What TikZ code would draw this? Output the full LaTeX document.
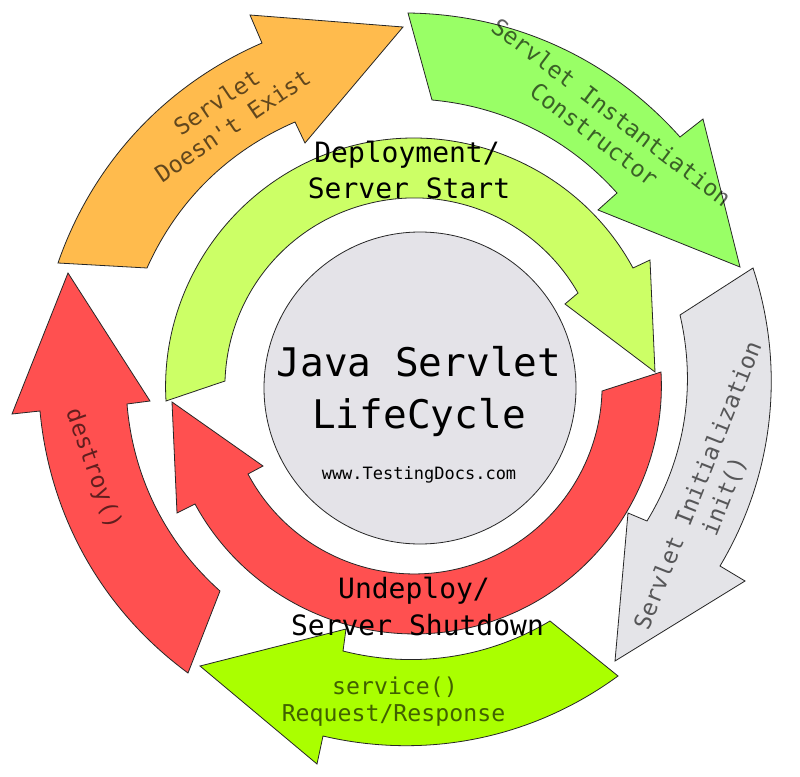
\documentclass[tikz,border=0pt]{standalone}
\usepackage{fontspec}
\setmonofont{DejaVu Sans Mono}
\definecolor{cOrange}{RGB}{255,187,77}
\definecolor{cInst}{RGB}{153,255,102}
\definecolor{cGray}{RGB}{228,228,232}
\definecolor{cServ}{RGB}{170,255,0}
\definecolor{cRed}{RGB}{255,80,80}
\definecolor{cDeploy}{RGB}{204,255,102}
\definecolor{cCircle}{RGB}{228,227,232}
\begin{document}
\begin{tikzpicture}[x=1pt,y=1pt,
  arrowbody/.style={draw=black!85, line width=0.8pt, line join=miter, miter limit=10},
  blacklbl/.style={font=\ttfamily\fontsize{28}{34}\selectfont, inner sep=0pt, anchor=base, text=black},
  titlelbl/.style={font=\ttfamily\fontsize{39.4}{48}\selectfont, inner sep=0pt, anchor=base, text=black},
  arrowlbl/.style={font=\ttfamily\fontsize{23.2}{28.4}\selectfont, inner sep=0pt, text=black, text opacity=0.62, align=center},
]
\useasboundingbox (0,0) rectangle (800,-776);
\fill[white] (0,0) rectangle (800,-776);

% ---------- outer ring ----------
% Servlet Doesn't Exist (orange)
\path[arrowbody, fill=cOrange] (58,-263) to[bend left=23.7, looseness=0.9] (262,-43) -- (250,-15) -- (403,-27)
  -- (305,-143) -- (295,-122) to[bend right=21.2, looseness=0.9] (147,-268) -- cycle;
% Servlet Instantiation (green)
\path[arrowbody, fill=cInst] (408,-13) to[bend left=23.8, looseness=0.9] (680,-137) -- (703,-119) -- (740,-267)
  -- (598,-210) -- (617,-193) to[bend right=21.4, looseness=0.9] (432,-100) -- cycle;
% Servlet Initialization (gray)
\path[arrowbody, fill=cGray] (753,-268) to[bend left=24.5, looseness=0.9] (720,-566) -- (745,-581) -- (615,-661)
  -- (628,-513) -- (647,-521) to[bend right=22.2, looseness=0.9] (680,-315) -- cycle;
% service() (bright green)
\path[arrowbody, fill=cServ] (618,-676) to[bend left=24.7, looseness=0.9] (323,-736) -- (317,-764) -- (200,-666)
  -- (346,-629) -- (343,-651) to[bend right=22.4, looseness=0.9] (550,-621) -- cycle;
% destroy() (red)
\path[arrowbody, fill=cRed] (188,-673) to[bend left=24.2, looseness=0.9] (40,-411) -- (12,-414) -- (68,-273)
  -- (150,-401) -- (127,-404) to[bend right=21.7, looseness=0.9] (220,-591) -- cycle;

% ---------- inner ring ----------
% Undeploy (red)
\path[arrowbody, fill=cRed] (661,-372) to[bend left=38.7, looseness=0.95] (481.5,-624.6)
  to[bend left=38.7, looseness=0.95] (195,-504) -- (177,-513) -- (172,-402) -- (263,-466) -- (248,-474)
  to[bend right=37.6, looseness=0.95] (456.9,-569) to[bend right=37.6, looseness=0.95] (602,-391) -- cycle;
% Deployment (yellow green)
\path[arrowbody, fill=cDeploy] (166,-401) to[bend left=38.8, looseness=0.95] (346.1,-147.5)
  to[bend left=38.8, looseness=0.95] (633,-268) -- (650,-260) -- (655,-372) -- (565,-304) -- (578,-293)
  to[bend right=37.2, looseness=0.95] (368.5,-203.6) to[bend right=37.2, looseness=0.95] (225,-381) -- cycle;

% ---------- hub ----------
\node (hub) [circle, draw=black!85, line width=0.8pt, fill=cCircle, minimum size=312pt, inner sep=0pt] at (420,-388) {};
\node (t1) [titlelbl] at (419,-376.5) {Java Servlet};
\node (t2) [titlelbl] at (419,-428.3) {LifeCycle};
\node (t3) [font=\ttfamily\fontsize{17}{20}\selectfont, inner sep=0pt, anchor=base] at (419,-479) {www.TestingDocs.com};

% ---------- inner labels ----------
\node (d1) [blacklbl] at (407,-162) {Deployment/};
\node (d2) [blacklbl] at (409,-198) {Server Start};
\node (u1) [blacklbl] at (414,-598) {Undeploy/};
\node (u2) [blacklbl] at (417.5,-635.5) {Server Shutdown};

% ---------- outer labels ----------
\node (o1) [arrowlbl, rotate=34] at (224.5,-113.3) {Servlet\\Doesn\textquotesingle t Exist};
\node (i1) [arrowlbl, rotate=-37.3] at (603,-123.3) {Servlet Instantiation\\Constructor};
\node (g1) [arrowlbl, rotate=68.3] at (711.5,-491) {Servlet Initialization\\init()};
\node (s1) [arrowlbl, anchor=base] at (395,-694) {service()};
\node (s2) [arrowlbl, anchor=base] at (393.5,-721.7) {Request/Response};
\node (x1) [arrowlbl, rotate=-70.5] at (93,-469) {destroy()};
\end{tikzpicture}
\end{document}
